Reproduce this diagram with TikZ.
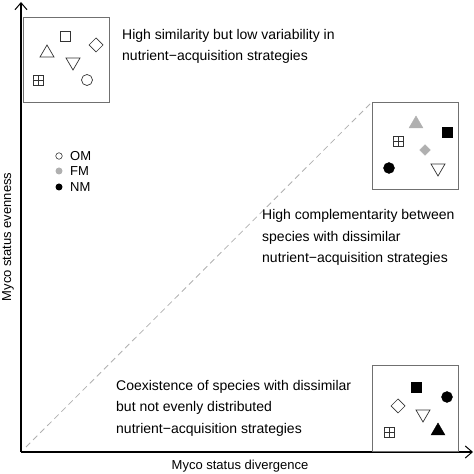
\documentclass[tikz,border=0pt]{standalone}
\usepackage{fontspec}
\setmainfont{Liberation Sans}
\usetikzlibrary{arrows.meta}
\definecolor{sym}{HTML}{333333}
\definecolor{lg}{HTML}{B0B0B0}
\definecolor{boxc}{HTML}{707070}
\tikzset{
  x=1pt,y=1pt,
  lbl/.style={anchor=west,font=\fontsize{14}{14}\selectfont,inner sep=0pt},
  leg/.style={anchor=west,font=\fontsize{13}{13}\selectfont,inner sep=0pt},
  panel/.style={draw=boxc,line width=0.8pt},
  axis/.style={line width=1.4pt,-{Straight Barb[length=7pt,width=12pt,line width=1pt]}},
  sqr/.pic={\path[pic actions] (-5,-5) rectangle (5,5);},
  dia/.pic={\path[pic actions] (0,-7) -- (7,0) -- (0,7) -- (-7,0) -- cycle;},
  tri/.pic={\path[pic actions] (-7,-5) -- (7,-5) -- (0,7) -- cycle;},
  itri/.pic={\path[pic actions] (-7,5) -- (7,5) -- (0,-7) -- cycle;},
  circ/.pic={\path[pic actions] (0,0) circle (5.5);},
  grd/.pic={\path[pic actions] (-5,-5) rectangle (5,5); \path[pic actions] (0,-5) -- (0,5) (-5,0) -- (5,0);},
  op/.style={draw=sym,line width=0.7pt,fill=white},
  gy/.style={draw=lg,fill=lg},
  bk/.style={draw=black,fill=black},
}
\begin{document}
\begin{tikzpicture}
\useasboundingbox (0,0) rectangle (474,474);
% axes
\coordinate (o) at (21,22);
\coordinate (ytop) at (21,472);
\coordinate (xend) at (473,22);
\draw[dashed,draw=lg,line width=0.8pt,dash pattern=on 6pt off 4pt] (26,27) -- (372,372);
\draw[axis] (o) -- (ytop);
\draw[axis] (o) -- (xend);
% top-left panel
\node[panel,minimum width=86,minimum height=85,inner sep=0pt] (p1) at (66,414.5) {};
\pic[op] at (65,438) {sqr};
\pic[op] at (96,429) {dia};
\pic[op] at (47,422) {tri};
\pic[op] at (73,411) {itri};
\pic[op] at (38,394) {grd};
\pic[op] at (87,394) {circ};
% right panel
\node[panel,minimum width=86,minimum height=87,inner sep=0pt] (p2) at (415,328.5) {};
\pic[gy] at (416,351) {tri};
\pic[bk] at (447,342) {sqr};
\pic[op] at (398,333) {grd};
\pic[gy,scale=0.75] at (425,324) {dia};
\pic[bk] at (389,306) {circ};
\pic[op] at (438,305) {itri};
% bottom-right panel
\node[panel,minimum width=86,minimum height=86,inner sep=0pt] (p3) at (415,66) {};
\pic[bk] at (416,87) {sqr};
\pic[bk] at (447,77) {circ};
\pic[op] at (398,68) {dia};
\pic[op] at (423,59) {itri};
\pic[op] at (389,42) {grd};
\pic[bk] at (438,44) {tri};
% legend
\node[draw=sym,line width=0.6pt,circle,inner sep=0pt,minimum size=6.5] (l1) at (59,318) {};
\node[fill=lg,circle,inner sep=0pt,minimum size=7] (l2) at (59,303) {};
\node[fill=black,circle,inner sep=0pt,minimum size=7] (l3) at (59,287) {};
\node[leg] (t1) at (70,318) {OM};
\node[leg] (t2) at (70,303) {FM};
\node[leg] (t3) at (70,287) {NM};
% texts
\node[lbl] (a1) at (122,438) {High similarity but low variability in};
\node[lbl] (a2) at (122,417) {nutrient−acquisition strategies};
\node[lbl] (b1) at (262,258) {High complementarity between};
\node[lbl] (b2) at (262,236) {species with dissimilar};
\node[lbl] (b3) at (262,215) {nutrient−acquisition strategies};
\node[lbl] (c1) at (116,87) {Coexistence of species with dissimilar};
\node[lbl] (c2) at (116,66) {but not evenly distributed};
\node[lbl] (c3) at (116,44) {nutrient−acquisition strategies};
\node[font=\fontsize{13}{13}\selectfont,inner sep=0pt] (xl) at (240,8) {Myco status divergence};
\node[font=\fontsize{13}{13}\selectfont,inner sep=0pt,rotate=90] (yl) at (8,237) {Myco status evenness};
\end{tikzpicture}
\end{document}
